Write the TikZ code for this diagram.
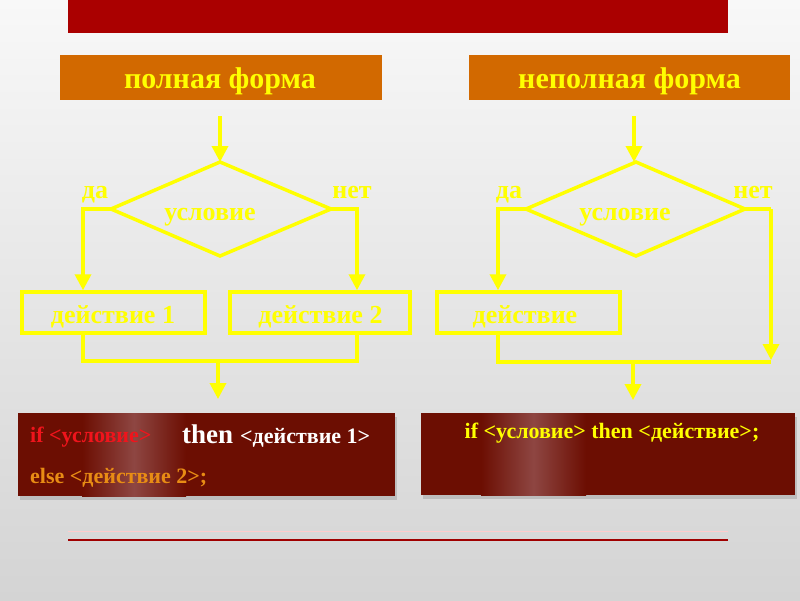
\documentclass[tikz,border=0pt]{standalone}
\usepackage{fontspec}
\setmainfont{Liberation Serif}
\usetikzlibrary{arrows.meta}
\definecolor{bgtop}{RGB}{248,248,248}
\definecolor{bgbot}{RGB}{212,212,212}
\definecolor{topred}{RGB}{170,0,0}
\definecolor{orng}{RGB}{210,105,0}
\definecolor{codebg}{RGB}{108,14,2}
\definecolor{codehl}{RGB}{142,70,66}
\definecolor{ylw}{RGB}{255,255,0}
\definecolor{codered}{RGB}{240,20,28}
\definecolor{codeorange}{RGB}{232,140,20}
\definecolor{lineRed}{RGB}{160,0,0}
\tikzset{
  flow/.style={draw=ylw, line width=3.5pt},
  arr/.style={draw=ylw, line width=3.5pt, -{Triangle[width=16pt,length=16pt]}},
  actbox/.style={draw=ylw, line width=3.5pt, minimum height=41pt, inner sep=0pt},
  lbl/.style={text=ylw, font=\bfseries\fontsize{26}{28}\selectfont, inner sep=0pt, anchor=base},
  hdr/.style={fill=orng, minimum height=45pt, inner sep=0pt},
  hdrtext/.style={text=ylw, font=\bfseries\fontsize{30}{32}\selectfont, inner sep=0pt, anchor=base},
  codefont/.style={font=\bfseries\fontsize{22}{24}\selectfont, inner sep=0pt, anchor=base west}
}
\begin{document}
\begin{tikzpicture}[x=1pt,y=-1pt]
\useasboundingbox (0,0) rectangle (800,600);
\shade[top color=bgtop, bottom color=bgbot] (0,0) rectangle (800,600);
% top bar
\fill[topred] (68,0) rectangle (728,33);
% headers
\node[hdr, minimum width=322pt] (h1) at (221,77) {};
\node[hdrtext] (h1t) at (220,88) {полная форма};
\node[hdr, minimum width=321pt] (h2) at (629.5,77) {};
\node[hdrtext] (h2t) at (629.5,88) {неполная форма};

% ---------- left flowchart ----------
\coordinate (s1) at (220,116);
\coordinate (t1) at (220,162);
\coordinate (l1) at (111,209);
\coordinate (r1) at (331,209);
\coordinate (b1) at (220,256);
\draw[flow, line join=miter] (t1) -- (r1) -- (b1) -- (l1) -- cycle;
\draw[arr] (s1) -- (t1);
\node[lbl] (c1) at (210,220) {условие};
\node[lbl] (da1) at (95,198) {да};
\node[lbl] (net1) at (352,198) {нет};
\node[actbox, minimum width=183pt] (a1) at (113.5,312.5) {};
\node[lbl] (a1t) at (113,323) {действие 1};
\node[actbox, minimum width=180pt] (a2) at (320,312.5) {};
\node[lbl] (a2t) at (320.5,323) {действие 2};
\draw[arr] (l1) -| (a1.north -| 83,0);
\draw[arr] (r1) -| (a2.north -| 357,0);
\coordinate (j1) at (83,361);
\coordinate (j2) at (357,361);
\coordinate (m1) at (218,361);
\draw[flow] (a1.south -| j1) -- (j1) -- (j2) -- (a2.south -| j2);
\coordinate (e1) at (218,399);
\draw[arr] (m1) -- (e1);

% left code box
\fill[gray!60, opacity=0.7] (20,417) rectangle (397,500);
\fill[codebg] (18,413) rectangle (395,496);
\shade[left color=codebg, right color=codebg, middle color=codehl] (82,413) rectangle (186,496);
\node[codefont, text=codered] (if1) at (30,442) {if <условие>};
\node[font=\bfseries\fontsize{27}{29}\selectfont, inner sep=0pt, anchor=base west, text=white] (then1) at (182,443) {then};
\node[codefont, text=white] (act1) at (240,443) {<действие 1>};
\node[codefont, text=codeorange] (else1) at (30,483) {else <действие 2>;};

% ---------- right flowchart ----------
\coordinate (s2) at (634,116);
\coordinate (t2) at (636,162);
\coordinate (l2) at (526,209);
\coordinate (r2) at (745,209);
\coordinate (b2) at (636,256);
\draw[flow, line join=miter] (t2) -- (r2) -- (b2) -- (l2) -- cycle;
\draw[arr] (s2) -- (634,162);
\node[lbl] (c2) at (625,220) {условие};
\node[lbl] (da2) at (509,198) {да};
\node[lbl] (net2) at (753,198) {нет};
\node[actbox, minimum width=183pt] (a3) at (528.5,312.5) {};
\node[lbl] (a3t) at (525,323) {действие};
\draw[arr] (l2) -| (a3.north -| 498,0);
\coordinate (k1) at (498,362);
\coordinate (k2) at (771,362);
\coordinate (k3) at (771,209);
\coordinate (m2) at (633,362);
\draw[flow] (a3.south -| k1) -- (k1) -- (k2);
\draw[flow] (r2) -- (k3);
\draw[arr] (k3) -- (771,360);
\coordinate (e2) at (633,400);
\draw[arr] (m2) -- (e2);

% right code box
\fill[gray!60, opacity=0.7] (423,417) rectangle (797,499);
\fill[codebg] (421,413) rectangle (795,495);
\shade[left color=codebg, right color=codebg, middle color=codehl] (481,413) rectangle (586,495);
\node[codefont, text=ylw, anchor=base] (code2) at (612,438) {if <условие> then <действие>;};

% bottom line
\draw[red!20, line width=1pt] (68,531) -- (728,531);
\draw[lineRed, line width=2.5pt] (68,540) -- (728,540);
\end{tikzpicture}
\end{document}
